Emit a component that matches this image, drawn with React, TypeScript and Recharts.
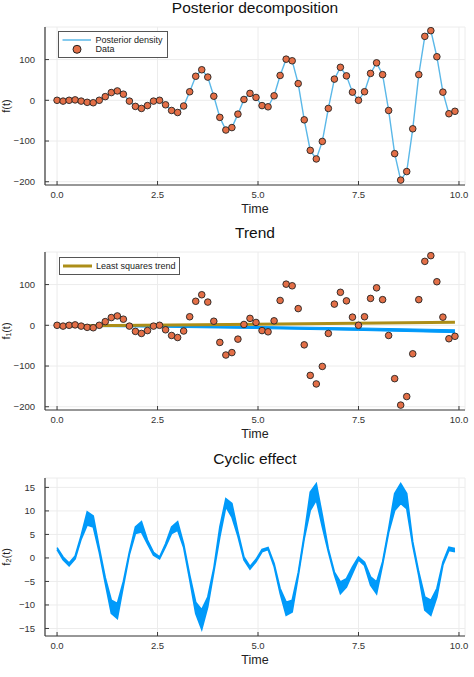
import React from 'react';
import { ComposedChart, Line, Scatter, Area, XAxis, YAxis, CartesianGrid, Legend } from 'recharts';

// ---------- data ----------
const times = [0, 0.15, 0.3, 0.45, 0.6, 0.75, 0.9, 1.05, 1.2, 1.35, 1.5, 1.65, 1.8, 1.95, 2.1, 2.25, 2.4, 2.55, 2.7, 2.85, 3.0, 3.15, 3.3, 3.45, 3.6, 3.75, 3.9, 4.05, 4.2, 4.35, 4.5, 4.65, 4.8, 4.95, 5.1, 5.25, 5.4, 5.55, 5.7, 5.85, 6.0, 6.15, 6.3, 6.45, 6.6, 6.75, 6.9, 7.05, 7.2, 7.35, 7.5, 7.65, 7.8, 7.95, 8.1, 8.25, 8.4, 8.55, 8.7, 8.85, 9.0, 9.15, 9.3, 9.45, 9.6, 9.75, 9.9];

const observed = [0, -2, 0, 1, -2, -5, -6, 0, 9, 19, 23, 15, -2, -15, -20, -13, -2, 0, -11, -25, -30, -14, 21, 59, 75, 57, 10, -42, -73, -67, -34, 2, 17, 7, -13, -16, 11, 61, 101, 97, 41, -48, -123, -144, -101, -20, 52, 81, 60, 20, 0, 21, 66, 92, 63, -25, -131, -196, -175, -70, 63, 157, 171, 107, 20, -33, -27];

const posteriorMean = [0, -2, 0, 1, -2, -5, -6, 0, 9, 19, 23, 15, -2, -15, -20, -13, -2, 0, -11, -25, -30, -14, 21, 59, 75, 57, 10, -42, -73, -67, -34, 2, 17, 7, -13, -16, 11, 61, 101, 97, 41, -48, -123, -144, -101, -20, 52, 81, 60, 20, 0, 21, 66, 92, 63, -25, -131, -196, -175, -70, 63, 157, 171, 107, 20, -33, -27];

const cyclicUpper = [2.2, 0.2, -1.1, 0.4, 4.8, 9.8, 8.9, 2.2, -4.2, -9.0, -9.7, -5.0, 1.3, 6.6, 7.7, 3.8, 1.2, 0.2, 3.0, 6.6, 7.7, 3.0, -3.6, -9.4, -11.0, -8.3, -2.2, 6.6, 12.6, 11.6, 5.6, 0.2, -1.8, -0.3, 1.8, 2.2, -1.2, -6.5, -9.4, -9.0, -3.2, 4.9, 14.0, 15.8, 9.1, 1.9, -3.0, -5.1, -4.4, -1.9, 0.2, -0.9, -4.0, -5.1, -0.8, 6.2, 13.7, 15.8, 13.7, 3.4, -3.0, -8.3, -9.0, -6.5, -0.9, 2.3, 2.0];
const cyclicLower = [1.8, -0.4, -1.7, -0.2, 4.0, 7.0, 6.6, 1.2, -5.4, -11.8, -12.9, -6.0, 0.7, 5.2, 5.5, 3.0, 0.6, -0.2, 2.4, 5.2, 5.9, 2.2, -4.6, -11.8, -15.2, -10.4, -3.0, 4.5, 10.9, 8.7, 4.6, -0.4, -2.4, -0.8, 1.3, 1.8, -1.8, -7.5, -12.2, -11.5, -3.9, 4.1, 10.1, 12.3, 6.6, 1.3, -3.6, -7.6, -6.2, -3.3, -0.4, -1.6, -5.8, -7.6, -1.4, 5.4, 10.1, 11.6, 10.5, 2.6, -3.8, -11.1, -12.2, -8.3, -1.5, 1.6, 1.3];

const trendTimes = [0, 2.5, 5, 7.5, 9.9];
const trendUpper = [0.5, -0.5, -3, -6.5, -11];
const trendLower = [-2, -4.5, -8, -12.5, -18];

const lsTimes = [0, 9.9];
const lsValues = [-1.8, 7.3];

const xTicks = [0, 2.5, 5, 7.5, 10];
const bigYTicks = [-200, -100, 0, 100];
const cycYTicks = [-15, -10, -5, 0, 5, 10, 15];

// ---------- tables ----------
const rows = times.map((t, i) => ({
  t,
  y: observed[i],
  mean: posteriorMean[i],
  cycLo: cyclicLower[i],
  cycHi: cyclicUpper[i],
}));
const trendRows = trendTimes.map((t, i) => ({ t, lo: trendLower[i], hi: trendUpper[i] }));
const lsRows = lsTimes.map((t, i) => ({ t, v: lsValues[i] }));

// ---------- styles ----------
const FONT = '"Liberation Sans", Arial, Helvetica, sans-serif';
const AXIS = '#3a3a3a';
const GRID = '#ececec';
const TXT = '#333333';
const BLUE = '#009AFA';
const LIGHTBLUE = '#5BB8E8';
const ORANGE = '#E36F47';
const GOLD = '#AC8E18';

const fmtX = (v: number) => v.toFixed(1);
const fmtY = (v: number) => (v < 0 ? '\u2212' + Math.abs(v) : String(v));

const X_TM = 6;
const Y_TM = 10;

const XTick = (props: any) => {
  const { x, y, payload } = props;
  return (
    <g>
      <line x1={x} x2={x} y1={y - X_TM} y2={y - X_TM - 4} stroke={AXIS} strokeWidth={1} />
      <text x={x} y={y} dy="0.71em" textAnchor="middle" fontSize={9.5} fill={TXT} fontFamily={FONT}>
        {fmtX(payload.value)}
      </text>
    </g>
  );
};

const YTick = (props: any) => {
  const { x, y, payload } = props;
  return (
    <g>
      <line x1={x + Y_TM} x2={x + Y_TM + 4} y1={y} y2={y} stroke={AXIS} strokeWidth={1} />
      <text x={x} y={y} dy="0.35em" textAnchor="end" fontSize={9.5} fill={TXT} fontFamily={FONT}>
        {fmtY(payload.value)}
      </text>
    </g>
  );
};

const xLabel = (props: any) => {
  const vb = props.viewBox || {};
  return (
    <text x={vb.x + vb.width / 2} y={vb.y + 28} textAnchor="middle" fontSize={12.5} fill="#222" fontFamily={FONT}>
      Time
    </text>
  );
};

const makeYLabel = (txt: string) => () => {
  const cy = 27 + 158 / 2;
  const lx = 10;
  return (
    <text x={lx} y={cy} transform={`rotate(-90, ${lx}, ${cy})`} textAnchor="middle" fontSize={11} fill="#222" fontFamily={FONT}>
      {txt}
    </text>
  );
};

const Dot = (p: any) => (
  <circle cx={p.cx} cy={p.cy} r={3.3} fill={ORANGE} stroke="#222" strokeWidth={0.9} />
);

const Legend1 = () => (
  <svg width={110} height={27} style={{ display: 'block' }}>
    <rect x={0.5} y={0.5} width={109} height={26} fill="#fff" stroke="#555" strokeWidth={1} />
    <line x1={4.5} x2={33} y1={9} y2={9} stroke={LIGHTBLUE} strokeWidth={1.5} />
    <text x={37.5} y={9} dy="0.35em" fontSize={9} fill="#222" fontFamily={FONT}>Posterior density</text>
    <circle cx={19} cy={18.3} r={4} fill={ORANGE} stroke="#222" strokeWidth={1} />
    <text x={37.5} y={18.3} dy="0.35em" fontSize={9} fill="#222" fontFamily={FONT}>Data</text>
  </svg>
);

const Legend2 = () => (
  <svg width={121} height={18} style={{ display: 'block' }}>
    <rect x={0.5} y={0.5} width={120} height={17} fill="#fff" stroke="#555" strokeWidth={1} />
    <line x1={4} x2={33} y1={9} y2={9} stroke={GOLD} strokeWidth={3} />
    <text x={37} y={9} dy="0.35em" fontSize={9} fill="#222" fontFamily={FONT}>Least squares trend</text>
  </svg>
);

const CHART_W = 474;
const CHART_H = 220;
const MARGIN = { top: 27, right: 9, bottom: 5, left: 0 };

function Title({ text }: { text: string }) {
  return (
    <div
      style={{
        position: 'absolute',
        left: 45,
        top: -1,
        width: 420,
        textAlign: 'center',
        fontFamily: FONT,
        fontSize: 15.5,
        lineHeight: '18px',
        color: '#111',
        whiteSpace: 'nowrap',
      }}
    >
      {text}
    </div>
  );
}

function axes(yDomain: number[], yTicks: number[], ylabel: string) {
  return [
    <CartesianGrid key="g" stroke={GRID} strokeWidth={1} />,
    <XAxis
      key="x"
      type="number"
      dataKey="t"
      domain={[-0.3, 10.15]}
      ticks={xTicks}
      interval={0}
      allowDataOverflow
      height={30}
      tickSize={0}
      tickMargin={X_TM}
      tickLine={false}
      axisLine={{ stroke: AXIS, strokeWidth: 1.2 }}
      tick={XTick}
      label={xLabel}
    />,
    <YAxis
      key="y"
      type="number"
      domain={yDomain}
      ticks={yTicks}
      interval={0}
      allowDataOverflow
      width={45}
      tickSize={0}
      tickMargin={Y_TM}
      tickLine={false}
      axisLine={{ stroke: AXIS, strokeWidth: 1.2 }}
      tick={YTick}
      label={makeYLabel(ylabel)}
    />,
  ];
}

export default function App() {
  return (
    <div style={{ position: 'absolute', left: 0, top: 0, width: 474, height: 677, background: '#fff' }}>
      {/* Panel 1 */}
      <div style={{ position: 'absolute', left: 0, top: 0, width: CHART_W, height: CHART_H }}>
        <ComposedChart width={CHART_W} height={CHART_H} margin={MARGIN} data={rows}>
          {axes([-208, 180], bigYTicks, 'f(t)')}
          <Line type="linear" dataKey="mean" stroke={LIGHTBLUE} strokeWidth={1.4} dot={false} isAnimationActive={false} />
          <Scatter dataKey="y" shape={Dot} isAnimationActive={false} />
          <Legend
            layout="vertical"
            align="center"
            verticalAlign="middle"
            content={Legend1}
            wrapperStyle={{ position: 'absolute', top: 31, left: 58, width: 110, height: 27, margin: 0 }}
          />
        </ComposedChart>
        <Title text="Posterior decomposition" />
      </div>

      {/* Panel 2 */}
      <div style={{ position: 'absolute', left: 0, top: 225, width: CHART_W, height: CHART_H }}>
        <ComposedChart width={CHART_W} height={CHART_H} margin={MARGIN} data={rows}>
          {axes([-208, 180], bigYTicks, 'f\u2081(t)')}
          <Area
            data={trendRows}
            type="linear"
            dataKey={(d: any) => [d.lo, d.hi]}
            stroke={BLUE}
            strokeWidth={1}
            fill={BLUE}
            fillOpacity={1}
            isAnimationActive={false}
          />
          <Line data={lsRows} type="linear" dataKey="v" stroke={GOLD} strokeWidth={3} dot={false} isAnimationActive={false} />
          <Scatter dataKey="y" shape={Dot} isAnimationActive={false} />
          <Legend
            layout="vertical"
            align="center"
            verticalAlign="middle"
            content={Legend2}
            wrapperStyle={{ position: 'absolute', top: 31.5, left: 58.5, width: 121, height: 18, margin: 0 }}
          />
        </ComposedChart>
        <Title text="Trend" />
      </div>

      {/* Panel 3 */}
      <div style={{ position: 'absolute', left: 0, top: 451, width: CHART_W, height: CHART_H }}>
        <ComposedChart width={CHART_W} height={CHART_H} margin={MARGIN} data={rows}>
          {axes([-16.6, 17], cycYTicks, 'f\u2082(t)')}
          <Area
            type="linear"
            dataKey={(d: any) => [d.cycLo, d.cycHi]}
            stroke={BLUE}
            strokeWidth={1.6}
            fill={BLUE}
            fillOpacity={1}
            isAnimationActive={false}
          />
        </ComposedChart>
        <Title text="Cyclic effect" />
      </div>
    </div>
  );
}
